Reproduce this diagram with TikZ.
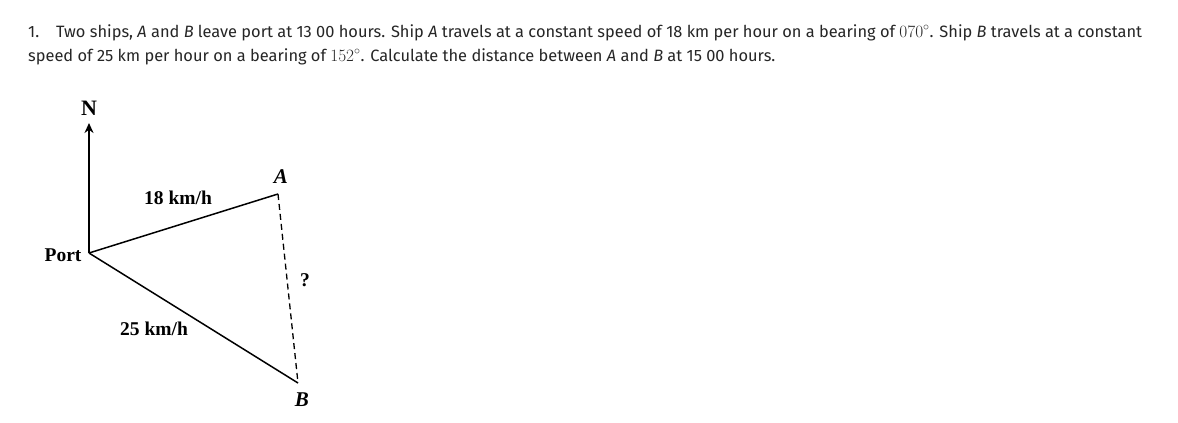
\documentclass[tikz,border=0pt]{standalone}
\usepackage{fontspec}
\setmainfont{Fira Sans}
\newfontfamily\tnr{Liberation Serif}
\usetikzlibrary{arrows.meta}
\begin{document}
\begin{tikzpicture}[x=1pt,y=-1pt,
  qtext/.style={anchor=base west,inner sep=0pt,font=\fontsize{16.4}{19}\selectfont,text=black!85},
  lbl/.style={inner sep=0pt,font=\tnr\bfseries\fontsize{19.5}{22}\selectfont},
  pt/.style={inner sep=0pt,font=\tnr\bfseries\itshape\fontsize{21}{23}\selectfont},
  seg/.style={line width=1.5pt},
]
\useasboundingbox[fill=white] (0,0) rectangle (1178,423);
\node[qtext] (num) at (28,37) {1.};
\node[qtext] (l1) at (56,37) {Two ships, \textit{A} and \textit{B} leave port at 13 00 hours. Ship \textit{A} travels at a constant speed of 18 km per hour on a bearing of $070^{\circ}$. Ship \textit{B} travels at a constant};
\node[qtext] (l2) at (28,61) {speed of 25 km per hour on a bearing of $152^{\circ}$. Calculate the distance between \textit{A} and \textit{B} at 15 00 hours.};
% diagram
\coordinate (port) at (89,253);
\coordinate (ntip) at (89,123);
\coordinate (a) at (278,194);
\coordinate (b) at (298,383);
\draw[line width=1.8pt,-{Stealth[length=10pt,width=9pt]}] (port) -- (ntip);
\draw[seg] (port) -- (a);
\draw[seg] (port) -- (b);
\draw[line width=1.3pt,dash pattern=on 6pt off 4pt] (a) -- (b);
\node[lbl,font=\tnr\bfseries\fontsize{22}{24}\selectfont] (N) at (89,108) {N};
\node[lbl] (portl) at (63,255) {Port};
\node[pt] (Al) at (281,177) {A};
\node[pt] (Bl) at (302,400) {B};
\node[lbl] (q) at (305,280) {?};
\node[lbl] (s1) at (178,198) {18 km/h};
\node[lbl] (s2) at (154,329) {25 km/h};
\end{tikzpicture}
\end{document}
